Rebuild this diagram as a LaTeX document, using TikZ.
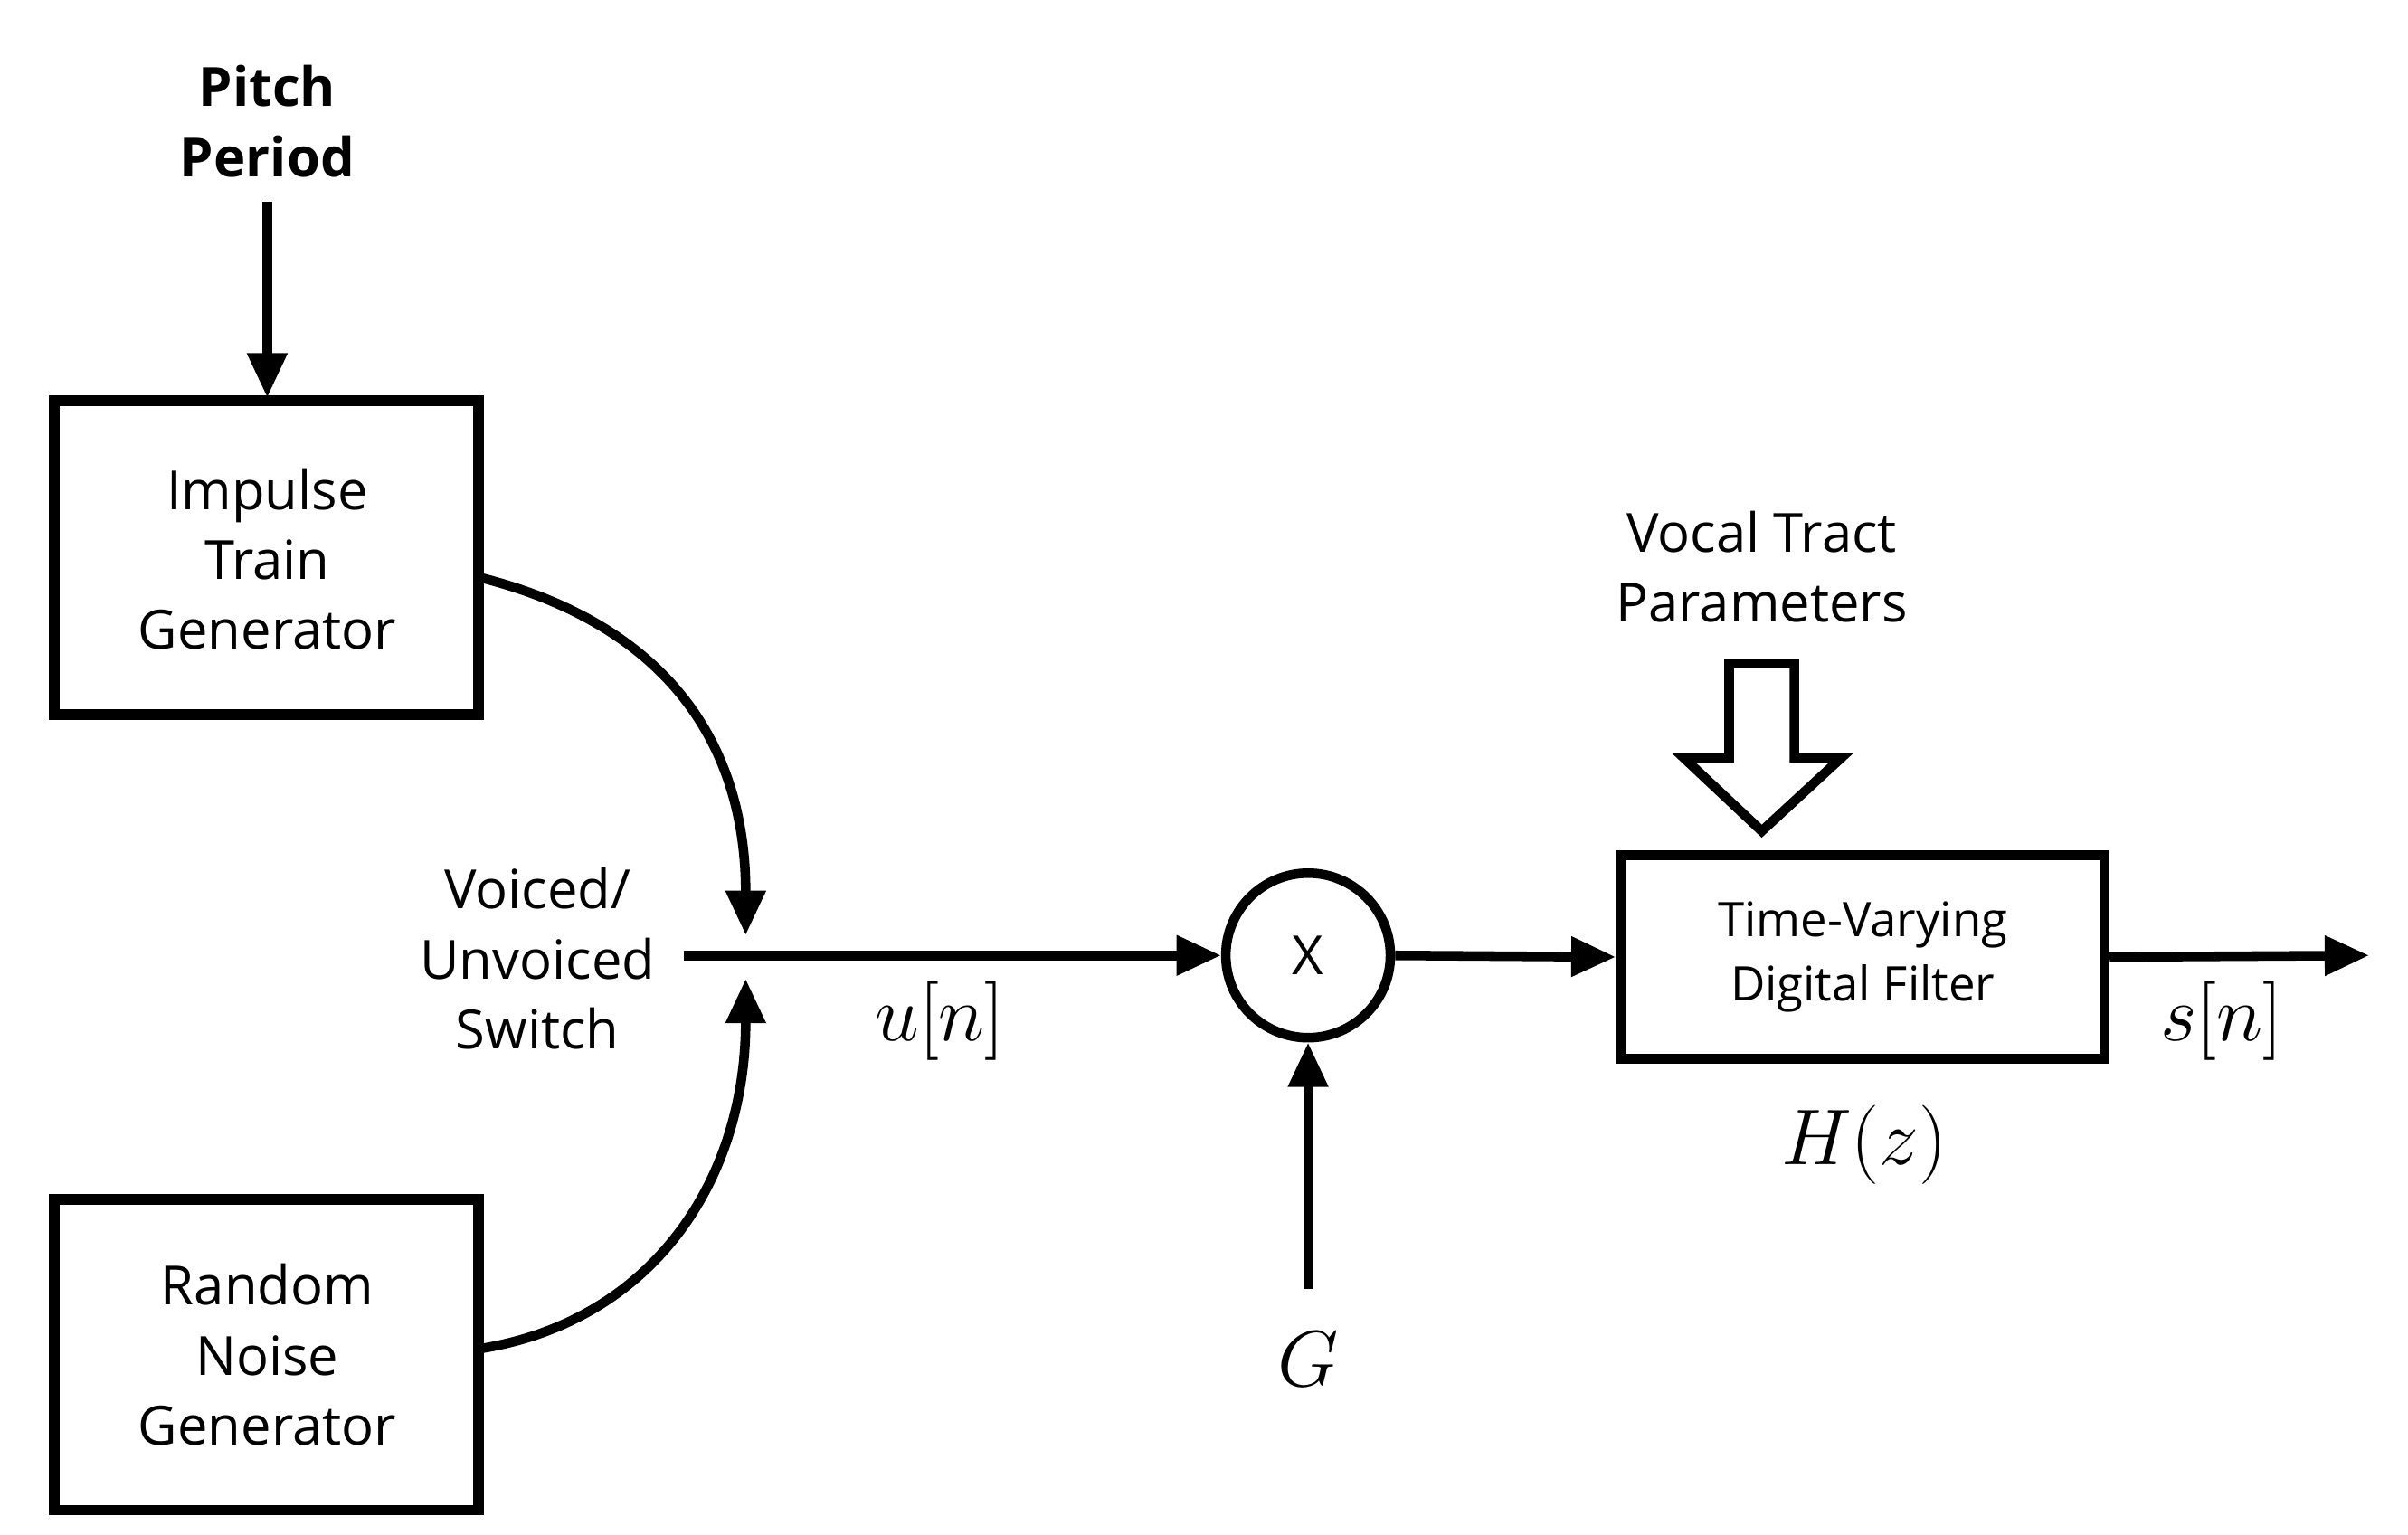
\documentclass[tikz,border=0pt]{standalone}
\usepackage{fontspec}
\setmainfont{Open Sans}
\usetikzlibrary{arrows.meta,shapes.arrows}
\begin{document}
\begin{tikzpicture}[x=0.017175cm,y=-0.017175cm,
  line width=3pt,
  box/.style={draw,line width=3.2pt,inner sep=0},
  lbl/.style={font=\fontsize{17}{22}\selectfont,align=center},
  mth/.style={font=\fontsize{24}{26}\selectfont},
  arr/.style={-{Triangle[length=14pt,width=12pt]}}]
\useasboundingbox (0,0) rectangle (1550,988);
\node[lbl,font=\bfseries\fontsize{17}{22}\selectfont] (pp) at (172,78) {Pitch\\Period};
\coordinate (ppe) at (172,130);
\draw[box] (35,258) rectangle (308,460);
\node[lbl] (itg) at (172,360) {Impulse\\Train\\Generator};
\coordinate (itgtop) at (172,256);
\draw[arr] (ppe) -- (itgtop);
\draw[box] (35,772) rectangle (308,972);
\node[lbl] (rng) at (172,872) {Random\\Noise\\Generator};
\coordinate (c1) at (310,372);
\coordinate (c2) at (310,868);
\coordinate (sw) at (440,615);
\coordinate (t1) at (480,602);
\coordinate (t2) at (480,630);
\draw[arr] (c1) .. controls (420,400) and (480,470) .. (t1);
\draw[arr] (c2) .. controls (420,850) and (480,760) .. (t2);
\node[lbl] (vus) at (346,617) {Voiced/\\Unvoiced\\Switch};
\node[draw,circle,minimum size=1.82cm,line width=3pt,inner sep=0] (mul) at (842,615) {};
\node[lbl] at (mul) {X};
\draw[arr] (sw) -- (mul.west);
\node[mth] (un) at (605,657) {$u[n]$};
\node[mth] (g) at (842,875) {$G$};
\coordinate (ge) at (842,830);
\draw[arr] (ge) -- (mul.south);
\node[box,minimum width=5.35cm,minimum height=2.25cm] (flt) at (1199,616) {};
\node[lbl,font=\fontsize{15}{20}\selectfont] at (flt) {Time-Varying\\Digital Filter};
\draw[arr] (mul.east) -- (flt.west);
\coordinate (out) at (1525,615);
\draw[arr] (flt.east) -- (out);
\node[mth] (hz) at (1200,737) {$H(z)$};
\node[mth] (sn) at (1430,657) {$s[n]$};
\node[lbl] (vtp) at (1134,365) {Vocal Tract\\Parameters};
\draw[line width=3pt,line join=miter] (1113,427) -- (1155,427) -- (1155,488) -- (1185,488) -- (1134,535) -- (1084,488) -- (1113,488) -- cycle;
\end{tikzpicture}
\end{document}
